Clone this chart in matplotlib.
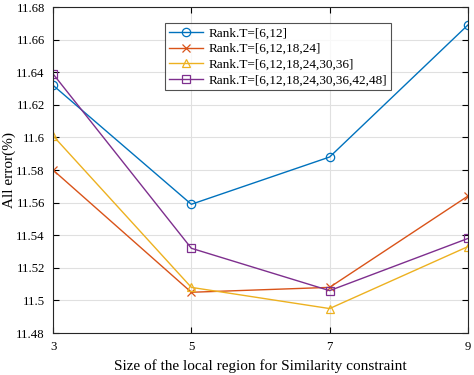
import matplotlib
matplotlib.use("Agg")
import matplotlib.pyplot as plt

plt.rcParams['font.family'] = ['Liberation Serif', 'DejaVu Serif']

x_vals = [3, 5, 7, 9]
labels = ["Rank.T=[6,12]", "Rank.T=[6,12,18,24]", "Rank.T=[6,12,18,24,30,36]",
          "Rank.T=[6,12,18,24,30,36,42,48]"]
s1 = [11.632, 11.559, 11.588, 11.669]
s2 = [11.580, 11.505, 11.508, 11.564]
s3 = [11.601, 11.508, 11.495, 11.533]
s4 = [11.639, 11.532, 11.506, 11.538]
yticks = [11.48, 11.5, 11.52, 11.54, 11.56, 11.58, 11.6, 11.62, 11.64, 11.66, 11.68]
ytick_labels = ["11.48", "11.5", "11.52", "11.54", "11.56", "11.58", "11.6", "11.62", "11.64", "11.66", "11.68"]

colors = ['#0072BD', '#D95319', '#EDB120', '#7E2F8E']
markers = ['o', 'x', '^', 's']

fig = plt.figure(figsize=(4.74, 3.75), dpi=100)
ax = fig.add_axes([0.112, 0.112, 0.875, 0.869])
for s, c, m, lab in zip([s1, s2, s3, s4], colors, markers, labels):
    ax.plot(x_vals, s, color=c, marker=m, markersize=6, markerfacecolor='none',
            markeredgewidth=0.9, linewidth=1.0, label=lab)

ax.set_xlim(3, 9)
ax.set_ylim(11.48, 11.68)
ax.set_xticks(x_vals)
ax.set_yticks(yticks)
ax.set_yticklabels(ytick_labels)
ax.grid(True, color='#e0e0e0', linewidth=0.8)
ax.tick_params(direction='in', top=True, right=True, labelsize=9.2, length=4, pad=6)
for sp in ax.spines.values():
    sp.set_linewidth(0.8)
    sp.set_color('#262626')
ax.set_xlabel("Size of the local region for Similarity constraint", fontsize=11)
ax.set_ylabel("All error(%)", fontsize=11)
ax.yaxis.set_label_coords(-0.09, 0.5)
leg = ax.legend(loc='upper left', bbox_to_anchor=(0.253, 0.97), fontsize=9.5,
                frameon=True, fancybox=False, edgecolor='#262626',
                handlelength=2.6, borderpad=0.3, labelspacing=0.25, handletextpad=0.4)
leg.get_frame().set_linewidth(0.8)
fig.savefig("out.png", dpi=100)
